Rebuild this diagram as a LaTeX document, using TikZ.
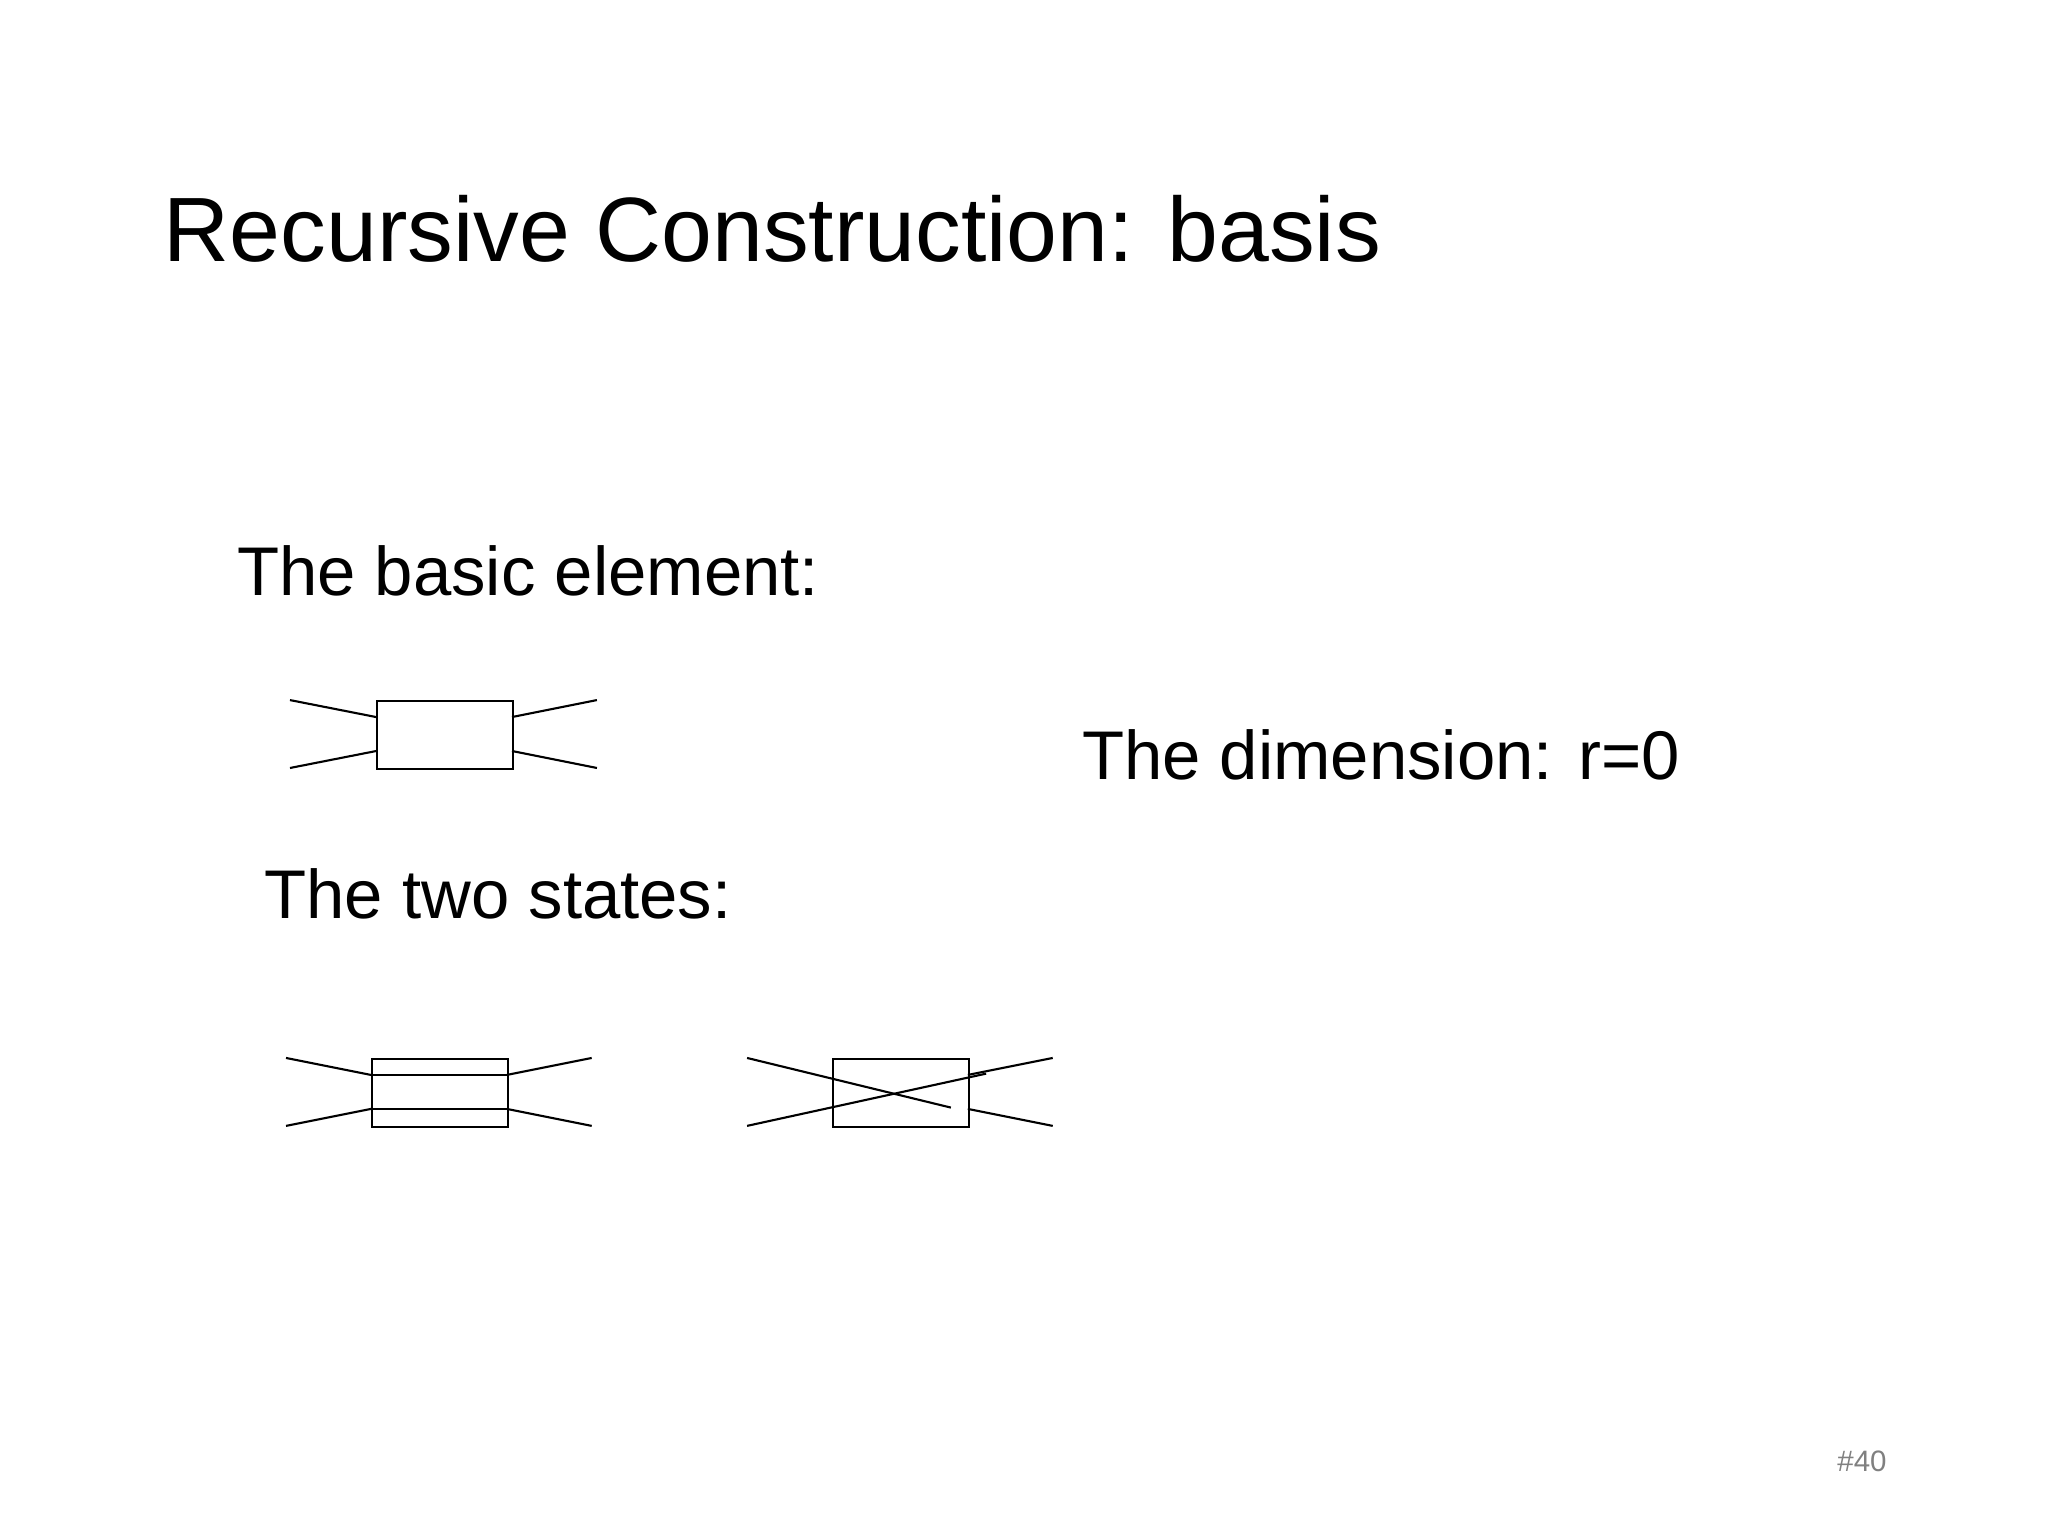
\documentclass[tikz,border=0pt]{standalone}
\usepackage{fontspec}
\setmainfont{Liberation Sans}
\begin{document}
\begin{tikzpicture}[x=0.01306cm,y=-0.01306cm,
  txt/.style={anchor=base west,inner sep=0pt},
  wire/.style={line width=0.6pt},
  elem/.style={draw,line width=0.6pt,minimum width=1.358cm,minimum height=0.679cm,inner sep=0pt,anchor=north west}]
\useasboundingbox (0,0) rectangle (1568,1176);
\node[txt,font=\fontsize{26}{30}\selectfont] (title) at (125,200) {Recursive Construction: basis};
\node[txt,font=\fontsize{19.6}{24}\selectfont] (basic) at (181,456) {The basic element:};
\node[txt,font=\fontsize{19.6}{24}\selectfont] (two) at (202,703) {The two states:};
\node[txt,font=\fontsize{19.6}{24}\selectfont] (dim) at (828,597) {The dimension: r=0};
\node[txt,anchor=base east,font=\fontsize{8.4}{10}\selectfont,text=gray] (pg) at (1445,1127) {\#40};
% basic element
\node[elem] (b1) at (288,536) {};
\coordinate (a1) at (222,536); \coordinate (a2) at (222,588);
\coordinate (a3) at (457,536); \coordinate (a4) at (457,588);
\draw[wire] (a1) -- (288,549); \draw[wire] (a2) -- (288,575);
\draw[wire] (392,549) -- (a3); \draw[wire] (392,575) -- (a4);
% state 1
\node[elem] (b2) at (284,810) {};
\draw[wire] (284,823) -- (388,823); \draw[wire] (284,849) -- (388,849);
\coordinate (c1) at (219,810); \coordinate (c2) at (219,862);
\coordinate (c3) at (453,810); \coordinate (c4) at (453,862);
\draw[wire] (c1) -- (284,823); \draw[wire] (c2) -- (284,849);
\draw[wire] (388,823) -- (c3); \draw[wire] (388,849) -- (c4);
% state 2
\node[elem] (b3) at (637,810) {};
\coordinate (d1) at (572,810); \coordinate (d2) at (572,862);
\coordinate (d3) at (806,810); \coordinate (d4) at (806,862);
\draw[wire] (d1) -- (728,848);
\draw[wire] (d2) -- (755,822);
\draw[wire] (741,823) -- (d3); \draw[wire] (741,849) -- (d4);
\end{tikzpicture}
\end{document}
